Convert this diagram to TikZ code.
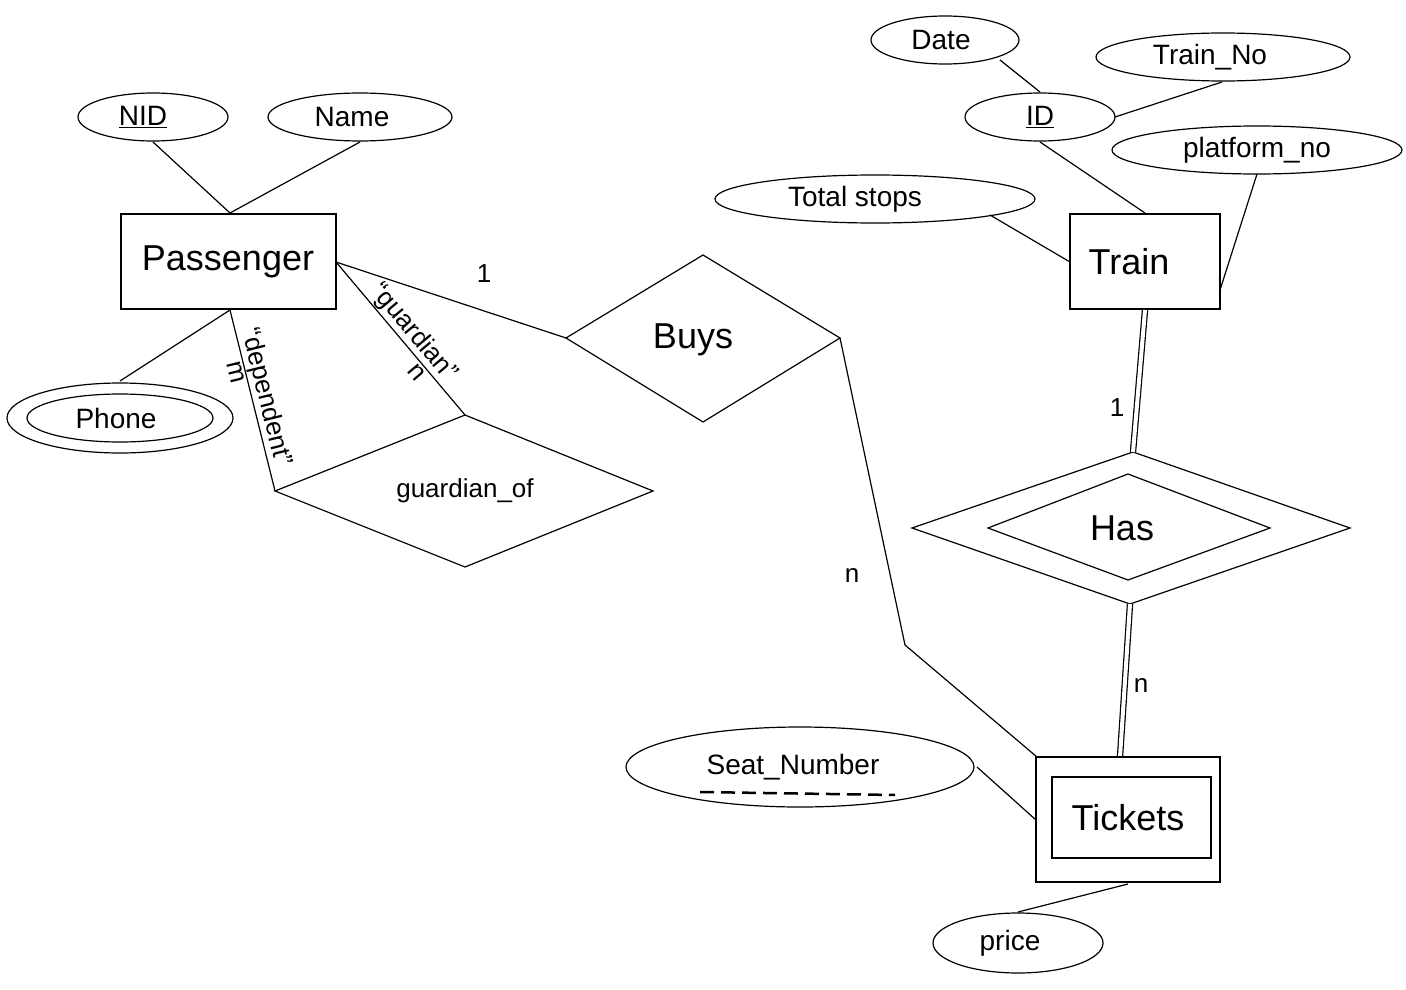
\documentclass[tikz,border=0pt]{standalone}
\usepackage{fontspec}
\setmainfont{Liberation Sans}
\begin{document}
\begin{tikzpicture}[x=1pt,y=-1pt,
  line width=1.2pt,
  attr/.style={font=\fontsize{28}{30}\selectfont},
  ent/.style={font=\fontsize{36}{38}\selectfont},
  lbl/.style={font=\fontsize{26}{28}\selectfont}]
\useasboundingbox (0,0) rectangle (1406,990);
% attributes
\draw (153,117) ellipse [x radius=75, y radius=24];
\node[attr] (nid) at (143,117) {\underline{NID}};
\draw (360,117) ellipse [x radius=92, y radius=24];
\node[attr] (name) at (352,117) {Name};
\draw (120,418) ellipse [x radius=113, y radius=35];
\draw (120,418) ellipse [x radius=93, y radius=24];
\node[attr] (phone) at (116,418) {Phone};
% Passenger
\draw (121,214) rectangle (336,309);
\node[ent] (pass) at (228,262) {Passenger};
\coordinate (pt) at (230,213);
\coordinate (pb) at (230,310);
\coordinate (pr) at (336,262);
\draw (153,142) -- (pt);
\draw (360,142) -- (pt);
\draw (120,381) -- (pb);
% guardian_of
\draw (465,415) coordinate (gt) -- (653,491) -- (465,567) -- (275,491) coordinate (gl) -- cycle;
\node[lbl] (gof) at (465,491) {guardian\_of};
\draw (pb) -- node[sloped,above,lbl,pos=0.5,inner sep=1pt]{“dependent”} node[sloped,below,lbl,pos=0.33,inner sep=2pt]{m} (gl);
\draw (pr) -- node[sloped,above,lbl,pos=0.52,inner sep=1pt]{“guardian”} node[sloped,below,lbl,pos=0.68,inner sep=2pt]{n} (gt);
% Buys
\draw (703,255) -- (840,338) coordinate (br) -- (703,422) -- (566,338) coordinate (bl) -- cycle;
\node[ent] (buys) at (693,340) {Buys};
\draw (pr) -- (bl);
\node[lbl] (one1) at (484,274) {1};
\coordinate (bend) at (905,645);
\draw (br) -- (bend) -- (1037,757);
\node[lbl] (n1) at (852,575) {n};
% Train
\draw (1070,214) rectangle (1220,309);
\node[ent] (train) at (1129,262) {Train};
\draw (945,40) ellipse [x radius=74, y radius=24];
\node[attr] (date) at (941,40) {Date};
\draw (1223,57) ellipse [x radius=127, y radius=24];
\node[attr] (tno) at (1210,57) {Train\_No};
\draw (1040,117) ellipse [x radius=75, y radius=24];
\node[attr] (id) at (1040,117) {\underline{ID}};
\draw (1257,150) ellipse [x radius=145, y radius=24];
\node[attr] (plat) at (1257,150) {platform\_no};
\draw (875,199) ellipse [x radius=160, y radius=24];
\node[attr] (ts) at (855,199) {Total stops};
\draw (1000,60) -- (1040,92);
\draw (1222,82) -- (1115,117);
\draw (1040,142) -- (1145,213);
\draw (1257,174) -- (1220,290);
\draw (990,215) -- (1070,262);
% Has
\draw (1133,452) -- (1350,528) -- (1130,604) -- (912,528) -- cycle;
\draw (1128,474) -- (1270,528) -- (1128,580) -- (988,528) -- cycle;
\node[ent] (has) at (1122,528) {Has};
\draw[double, double distance=4pt, line width=1.2pt] (1145,310) -- (1133,452);
\node[lbl] (one2) at (1117,408) {1};
\draw[double, double distance=4pt, line width=1.2pt] (1130,604) -- (1120,757);
\node[lbl] (n2) at (1141,685) {n};
% Tickets
\draw (1036,757) rectangle (1220,882);
\draw (1052,777) rectangle (1211,858);
\node[ent] (tick) at (1128,818) {Tickets};
\draw (800,767) ellipse [x radius=174, y radius=40];
\node[attr] (seat) at (793,767) {Seat\_Number};
\draw[dashed, dash pattern=on 14pt off 7pt, line width=2.5pt] (700,792) -- (895,795);
\draw (977,767) -- (1036,820);
\draw (1018,943) ellipse [x radius=85, y radius=30];
\node[attr] (price) at (1010,943) {price};
\draw (1128,884) -- (1018,912);
\end{tikzpicture}
\end{document}
